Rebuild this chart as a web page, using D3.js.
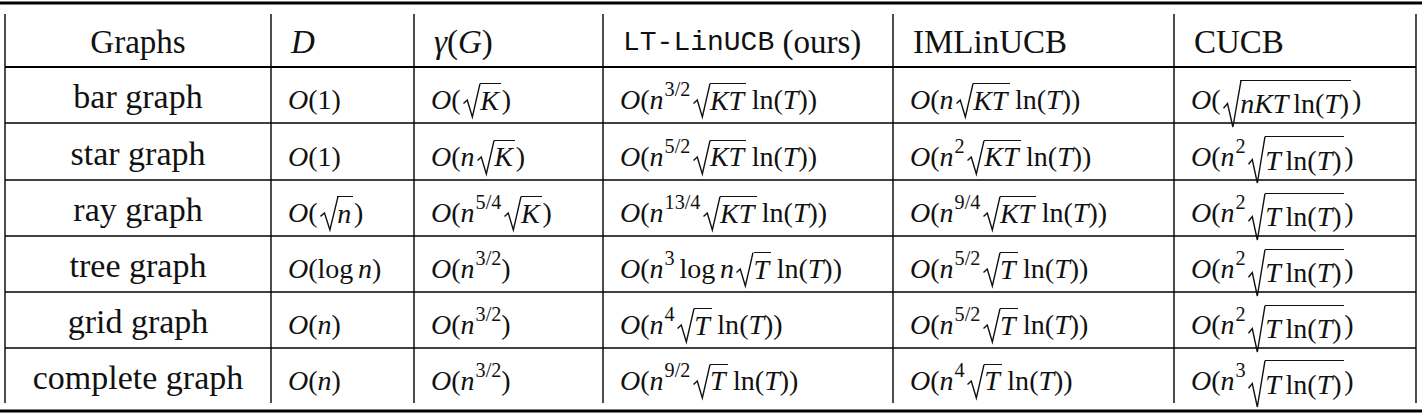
<!DOCTYPE html>
<html><head><meta charset="utf-8">
<script src="https://cdn.jsdelivr.net/npm/d3@7"></script>
<style>
body{margin:0;background:#fff;}
#wrap{position:relative;width:1422px;height:415px;overflow:hidden;}
svg{position:absolute;left:0;top:0;}
.cell{position:absolute;display:flex;align-items:center;white-space:nowrap;color:#111;}
.lab{font-family:"Liberation Serif","Times New Roman",serif;font-size:34px;justify-content:center;}
.hdr{font-family:"Liberation Serif",serif;font-size:33px;}
.math{font-family:"Liberation Serif",serif;font-size:28px;}
.it{font-style:italic;}
.fn{margin-left:0.17em;}
.mono{font-family:"Liberation Mono",monospace;font-size:28px;}
sup{font-size:0.72em;vertical-align:0;position:relative;top:-0.5em;margin-left:0.05em;}
.sq{display:inline-block;position:relative;padding-left:0.62em;margin-left:0.08em;margin-right:0.02em;}
.sq .b{border-top:1.3px solid #111;padding-top:0.06em;display:inline-block;line-height:1.05em;padding-right:0.08em;}
.sq svg{position:absolute;left:0;top:0;overflow:visible;}
.sqT .b{padding-top:0.3em;}
</style></head><body><div id="wrap"><svg id="lines" width="1422" height="415"></svg></div>
<script>
const headers=["Graphs","<i>D</i>","<i>γ</i>(<i>G</i>)","<span class='mono'>LT-LinUCB</span>&nbsp;(ours)","IMLinUCB","CUCB"];
const graphs=["bar graph","star graph","ray graph","tree graph","grid graph","complete graph"];
const colD=["O(1)","O(1)","O(\\sqrt{n})","O(\\log n)","O(n)","O(n)"];
const colGamma=["O(\\sqrt{K})","O(n\\sqrt{K})","O(n^{5/4}\\sqrt{K})","O(n^{3/2})","O(n^{3/2})","O(n^{3/2})"];
const colLT=["O(n^{3/2}\\sqrt{KT}\\ln(T))","O(n^{5/2}\\sqrt{KT}\\ln(T))","O(n^{13/4}\\sqrt{KT}\\ln(T))","O(n^{3}\\log n\\sqrt{T}\\ln(T))","O(n^{4}\\sqrt{T}\\ln(T))","O(n^{9/2}\\sqrt{T}\\ln(T))"];
const colIM=["O(n\\sqrt{KT}\\ln(T))","O(n^{2}\\sqrt{KT}\\ln(T))","O(n^{9/4}\\sqrt{KT}\\ln(T))","O(n^{5/2}\\sqrt{T}\\ln(T))","O(n^{5/2}\\sqrt{T}\\ln(T))","O(n^{4}\\sqrt{T}\\ln(T))"];
const colCUCB=["O(\\Sqrt{nKT\\ln(T)})","O(n^{2}\\Sqrt{T\\ln(T)})","O(n^{2}\\Sqrt{T\\ln(T)})","O(n^{2}\\Sqrt{T\\ln(T)})","O(n^{2}\\Sqrt{T\\ln(T)})","O(n^{3}\\Sqrt{T\\ln(T)})"];
const colEdges=[5,271,414,603,893,1174,1416];
const rowEdges=[14,67,123,180,236,292,348,403];

const columns=[graphs,colD,colGamma,colLT,colIM,colCUCB];
const x=d3.scaleOrdinal().domain(d3.range(colEdges.length)).range(colEdges);
const y=d3.scaleOrdinal().domain(d3.range(rowEdges.length)).range(rowEdges);

function parse(s){
  let i=0,out="";
  function group(){
    i++; let depth=1,st=i;
    while(i<s.length&&depth){ if(s[i]=="{")depth++; else if(s[i]=="}")depth--; i++; }
    return s.slice(st,i-1);
  }
  while(i<s.length){
    const c=s[i];
    if(c=="\\"){
      let m=s.slice(i+1).match(/^[A-Za-z]+/)[0]; i+=1+m.length;
      if(m=="sqrt"||m=="Sqrt"){const inner=parse(group());
        const tall=m=="Sqrt";
        out+=`<span class="sq${tall?' sqT':''}"><svg width="1" height="1"><path class="rad" data-tall="${tall?1:0}"/></svg><span class="b">${inner}</span></span>`;}
      else {const pre=out.length&&!out.endsWith("(")?"fn":"";out+=`<span class="${pre}">${m}</span>`;
        if(s[i]==" "){i++; out+=`<span style="margin-left:0.17em"></span>`;}}
    } else if(c=="^"){i++; out+=`<sup>${parse(group())}</sup>`;}
    else if(/[A-Za-z]/.test(c)){out+=`<span class="it">${c}</span>`;i++;}
    else if(c==" "){i++;}
    else {out+=c;i++;}
  }
  return out;
}

const svg=d3.select("#lines");
svg.append("line").attr("x1",0).attr("x2",1422).attr("y1",3).attr("y2",3).attr("stroke","#000").attr("stroke-width",3);
svg.append("line").attr("x1",0).attr("x2",1422).attr("y1",411).attr("y2",411).attr("stroke","#000").attr("stroke-width",3);
svg.selectAll("line.v").data(colEdges).enter().append("line").attr("class","v")
  .attr("x1",(d,i)=>x(i)).attr("x2",(d,i)=>x(i)).attr("y1",y(0)).attr("y2",y(rowEdges.length-1))
  .attr("stroke","#000").attr("stroke-width",1.4);
svg.selectAll("line.h").data(rowEdges.slice(1,-1)).enter().append("line").attr("class","h")
  .attr("x1",x(0)).attr("x2",x(colEdges.length-1)).attr("y1",d=>d).attr("y2",d=>d)
  .attr("stroke","#000").attr("stroke-width",(d,i)=>i==0?2:1.6);

const wrap=d3.select("#wrap");
headers.forEach((h,c)=>{
  wrap.append("div").attr("class","cell hdr").style("left",(x(c)+(c==0?0:20))+"px")
   .style("width",(c==0?x(c+1)-x(c):x(c+1)-x(c)-20)+"px").style("top",(y(0)+2)+"px").style("height",(y(1)-y(0))+"px")
   .style("justify-content",c==0?"center":"flex-start")
   .html(h);
});
columns.forEach((col,c)=>{
  col.forEach((v,r)=>{
    const d=wrap.append("div").attr("class","cell "+(c==0?"lab":"math"))
      .style("left",(x(c)+(c==0?0:17))+"px").style("width",(c==0?x(c+1)-x(c):x(c+1)-x(c)-17)+"px")
      .style("top",(y(r+1)+(c==0?2:5))+"px").style("height",(y(r+2)-y(r+1))+"px");
    if(c==0) d.text(v); else d.html(parse(v));
  });
});
d3.selectAll(".sq").each(function(){
  const el=this, b=el.querySelector(".b"), path=d3.select(el).select("path");
  const tall=path.attr("data-tall")=="1";
  const h=b.offsetHeight+(tall?8:2), w=el.offsetWidth-b.offsetWidth;
  const top=b.offsetTop;
  const p=d3.path();
  p.moveTo(0.5, top+h*0.6); p.lineTo(w*0.25, top+h*0.5);
  p.lineTo(w*0.55, top+h); p.lineTo(w, top+0.6);
  path.attr("d",p.toString()).attr("fill","none").attr("stroke","#111").attr("stroke-width",1.4);
});
</script></body></html>
